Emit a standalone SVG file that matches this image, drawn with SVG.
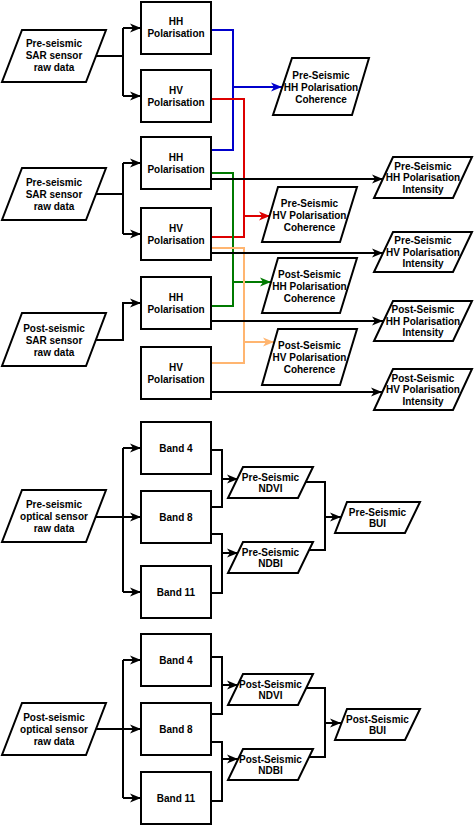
<svg xmlns="http://www.w3.org/2000/svg" width="474" height="825" viewBox="0 0 474 825">
<style>
.s{fill:#fff;stroke:#000;stroke-width:2}
.t{font-family:"Liberation Sans",Arial,sans-serif;font-weight:bold;font-size:10px;text-anchor:middle;fill:#000}
.c{fill:none;stroke-width:2}
.k{stroke:#000}.b{stroke:#0000CC}.r{stroke:#DD0000}.g{stroke:#007A00}.o{stroke:#FFB570}
</style>
<defs>
<marker id="ak" markerUnits="userSpaceOnUse" markerWidth="12" markerHeight="10" refX="11" refY="5" orient="auto"><path d="M0,0.5 L11,5 L0,9.5 L3,5 z" fill="#000"/></marker>
<marker id="ab" markerUnits="userSpaceOnUse" markerWidth="12" markerHeight="10" refX="11" refY="5" orient="auto"><path d="M0,0.5 L11,5 L0,9.5 L3,5 z" fill="#0000CC"/></marker>
<marker id="ar" markerUnits="userSpaceOnUse" markerWidth="12" markerHeight="10" refX="11" refY="5" orient="auto"><path d="M0,0.5 L11,5 L0,9.5 L3,5 z" fill="#DD0000"/></marker>
<marker id="ag" markerUnits="userSpaceOnUse" markerWidth="12" markerHeight="10" refX="11" refY="5" orient="auto"><path d="M0,0.5 L11,5 L0,9.5 L3,5 z" fill="#007A00"/></marker>
<marker id="ao" markerUnits="userSpaceOnUse" markerWidth="12" markerHeight="10" refX="11" refY="5" orient="auto"><path d="M0,0.5 L11,5 L0,9.5 L3,5 z" fill="#FFB570"/></marker>
</defs>

<g id="connectors">
<path class="c k" d="M96,56 H123 M123,28 V96"/>
<path class="c k" d="M123,28 H141" marker-end="url(#ak)"/>
<path class="c k" d="M123,96 H141" marker-end="url(#ak)"/>
<path class="c k" d="M96,194 H123 M123,163 V234"/>
<path class="c k" d="M123,163 H141" marker-end="url(#ak)"/>
<path class="c k" d="M123,234 H141" marker-end="url(#ak)"/>
<path class="c k" d="M96,340 H123 V303 H141" marker-end="url(#ak)"/>

<path class="c b" d="M211,30 H233 V87 H282" marker-end="url(#ab)"/>
<path class="c b" d="M211,150 H233 V87"/>
<path class="c r" d="M211,99 H244 V216 H270" marker-end="url(#ar)"/>
<path class="c r" d="M211,237 H244 V216"/>
<path class="c g" d="M211,173 H233 V282 H271" marker-end="url(#ag)"/>
<path class="c g" d="M211,306 H233 V282"/>
<path class="c o" d="M211,248 H244 V342 H274" marker-end="url(#ao)"/>
<path class="c o" d="M211,363 H244 V342"/>

<path class="c k" d="M211,179 H383" marker-end="url(#ak)"/>
<path class="c k" d="M211,253 H383" marker-end="url(#ak)"/>
<path class="c k" d="M211,321 H383" marker-end="url(#ak)"/>
<path class="c k" d="M211,392 H382" marker-end="url(#ak)"/>

<path class="c k" d="M96,517 H141" marker-end="url(#ak)"/>
<path class="c k" d="M123,448 V592"/>
<path class="c k" d="M123,448 H141" marker-end="url(#ak)"/>
<path class="c k" d="M123,592 H141" marker-end="url(#ak)"/>
<path class="c k" d="M211,450 H222 V507 H211"/>
<path class="c k" d="M222,479 H238" marker-end="url(#ak)"/>
<path class="c k" d="M211,534 H222 V593 H211"/>
<path class="c k" d="M222,553 H238" marker-end="url(#ak)"/>
<path class="c k" d="M305,482 H325 V550 H309"/>
<path class="c k" d="M325,517 H341" marker-end="url(#ak)"/>

<path class="c k" d="M96,729 H141" marker-end="url(#ak)"/>
<path class="c k" d="M123,660 V798"/>
<path class="c k" d="M123,660 H141" marker-end="url(#ak)"/>
<path class="c k" d="M123,798 H141" marker-end="url(#ak)"/>
<path class="c k" d="M211,657 H222 V714 H211"/>
<path class="c k" d="M222,685 H238" marker-end="url(#ak)"/>
<path class="c k" d="M211,742 H222 V801 H211"/>
<path class="c k" d="M222,759 H238" marker-end="url(#ak)"/>
<path class="c k" d="M306,688 H325 V757 H309"/>
<path class="c k" d="M325,723 H341" marker-end="url(#ak)"/>
</g>

<g id="sar1"><polygon class="s" points="22,30 106,30 86,82 2,82"/><text class="t" x="54"><tspan x="54" y="47">Pre-seismic</tspan><tspan x="54" y="59">SAR sensor</tspan><tspan x="54" y="71">raw data</tspan></text></g>
<g id="sar2"><polygon class="s" points="22,168 106,168 86,220 2,220"/><text class="t"><tspan x="54" y="185.5">Pre-seismic</tspan><tspan x="54" y="197.5">SAR sensor</tspan><tspan x="54" y="209.5">raw data</tspan></text></g>
<g id="sar3"><polygon class="s" points="22,313 106,313 86,366 2,366"/><text class="t"><tspan x="54" y="331.5">Post-seismic</tspan><tspan x="54" y="343.5">SAR sensor</tspan><tspan x="54" y="355.5">raw data</tspan></text></g>

<g id="hh1"><rect class="s" x="141" y="2" width="70" height="52"/><text class="t"><tspan x="176" y="25">HH</tspan><tspan x="176" y="37">Polarisation</tspan></text></g>
<g id="hv1"><rect class="s" x="141" y="70" width="70" height="52"/><text class="t"><tspan x="176" y="93.5">HV</tspan><tspan x="176" y="105.5">Polarisation</tspan></text></g>
<g id="hh2"><rect class="s" x="141" y="137" width="70" height="52"/><text class="t"><tspan x="176" y="160.5">HH</tspan><tspan x="176" y="172.5">Polarisation</tspan></text></g>
<g id="hv2"><rect class="s" x="141" y="208" width="70" height="52"/><text class="t"><tspan x="176" y="231.5">HV</tspan><tspan x="176" y="243.5">Polarisation</tspan></text></g>
<g id="hh3"><rect class="s" x="141" y="277" width="70" height="52"/><text class="t"><tspan x="176" y="300.5">HH</tspan><tspan x="176" y="312.5">Polarisation</tspan></text></g>
<g id="hv3"><rect class="s" x="141" y="347" width="70" height="52"/><text class="t"><tspan x="176" y="370.5">HV</tspan><tspan x="176" y="382.5">Polarisation</tspan></text></g>

<g id="preHHcoh"><polygon class="s" points="292,58 369,58 352,115 273,115"/><text class="t"><tspan x="321" y="78.5">Pre-Seismic</tspan><tspan x="321" y="90.5">HH Polarisation</tspan><tspan x="321" y="102.5">Coherence</tspan></text></g>
<g id="preHVcoh"><polygon class="s" points="278,187 357,187 340,242 262,242"/><text class="t"><tspan x="309.5" y="206.5">Pre-Seismic</tspan><tspan x="309.5" y="218.5">HV Polarisation</tspan><tspan x="309.5" y="230.5">Coherence</tspan></text></g>
<g id="postHHcoh"><polygon class="s" points="278,258 357,258 340,313 262,313"/><text class="t"><tspan x="309.5" y="277.5">Post-Seismic</tspan><tspan x="309.5" y="289.5">HH Polarisation</tspan><tspan x="309.5" y="301.5">Coherence</tspan></text></g>
<g id="postHVcoh"><polygon class="s" points="278,329 357,329 340,385 262,385"/><text class="t"><tspan x="309.5" y="348.5">Post-Seismic</tspan><tspan x="309.5" y="360.5">HV Polarisation</tspan><tspan x="309.5" y="372.5">Coherence</tspan></text></g>

<g id="preHHint"><polygon class="s" points="393,157 472,157 453,198 374,198"/><text class="t"><tspan x="423" y="169.5">Pre-Seismic</tspan><tspan x="423" y="181">HH Polarisation</tspan><tspan x="423" y="192.5">Intensity</tspan></text></g>
<g id="preHVint"><polygon class="s" points="393,232 472,232 453,272 374,272"/><text class="t"><tspan x="423" y="244">Pre-Seismic</tspan><tspan x="423" y="255.5">HV Polarisation</tspan><tspan x="423" y="267">Intensity</tspan></text></g>
<g id="postHHint"><polygon class="s" points="393,301 472,301 453,341 374,341"/><text class="t"><tspan x="423" y="313">Post-Seismic</tspan><tspan x="423" y="324.5">HH Polarisation</tspan><tspan x="423" y="336">Intensity</tspan></text></g>
<g id="postHVint"><polygon class="s" points="393,369 472,369 453,410 374,410"/><text class="t"><tspan x="423" y="381.5">Post-Seismic</tspan><tspan x="423" y="393">HV Polarisation</tspan><tspan x="423" y="404.5">Intensity</tspan></text></g>

<g id="opt1"><polygon class="s" points="22,490 106,490 86,542 2,542"/><text class="t"><tspan x="54" y="507.5">Pre-seismic</tspan><tspan x="54" y="519.5">optical sensor</tspan><tspan x="54" y="531.5">raw data</tspan></text></g>
<g id="b4a"><rect class="s" x="141" y="422" width="70" height="52"/><text class="t" x="176" y="451.5">Band 4</text></g>
<g id="b8a"><rect class="s" x="141" y="491" width="70" height="52"/><text class="t" x="176" y="520.5">Band 8</text></g>
<g id="b11a"><rect class="s" x="141" y="566" width="70" height="52"/><text class="t" x="176" y="595.5">Band 11</text></g>
<g id="ndvi1"><polygon class="s" points="243,467 313,467 298,498 228,498"/><text class="t"><tspan x="270.5" y="480.5">Pre-Seismic</tspan><tspan x="270.5" y="492">NDVI</tspan></text></g>
<g id="ndbi1"><polygon class="s" points="243,542 313,542 298,573 228,573"/><text class="t"><tspan x="270.5" y="555.5">Pre-Seismic</tspan><tspan x="270.5" y="567">NDBI</tspan></text></g>
<g id="bui1"><polygon class="s" points="347,502 420,502 405,533 335,533"/><text class="t"><tspan x="377.5" y="515.5">Pre-Seismic</tspan><tspan x="377.5" y="527">BUI</tspan></text></g>

<g id="opt2"><polygon class="s" points="22,703 106,703 86,755 2,755"/><text class="t"><tspan x="54" y="720.5">Post-seismic</tspan><tspan x="54" y="732.5">optical sensor</tspan><tspan x="54" y="744.5">raw data</tspan></text></g>
<g id="b4b"><rect class="s" x="141" y="634" width="70" height="52"/><text class="t" x="176" y="663.5">Band 4</text></g>
<g id="b8b"><rect class="s" x="141" y="703" width="70" height="52"/><text class="t" x="176" y="732.5">Band 8</text></g>
<g id="b11b"><rect class="s" x="141" y="772" width="70" height="52"/><text class="t" x="176" y="801.5">Band 11</text></g>
<g id="ndvi2"><polygon class="s" points="243,674 313,674 298,705 228,705"/><text class="t"><tspan x="270.5" y="687.5">Post-Seismic</tspan><tspan x="270.5" y="699">NDVI</tspan></text></g>
<g id="ndbi2"><polygon class="s" points="243,749 313,749 298,780 228,780"/><text class="t"><tspan x="270.5" y="762.5">Post-Seismic</tspan><tspan x="270.5" y="774">NDBI</tspan></text></g>
<g id="bui2"><polygon class="s" points="347,709 420,709 405,740 335,740"/><text class="t"><tspan x="377.5" y="722.5">Post-Seismic</tspan><tspan x="377.5" y="734">BUI</tspan></text></g>
</svg>
